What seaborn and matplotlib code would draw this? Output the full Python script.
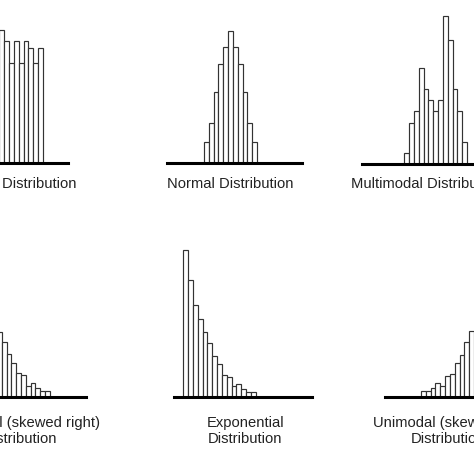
import matplotlib
matplotlib.use("Agg")
import matplotlib.pyplot as plt
import seaborn as sns

# bar heights (counts, arbitrary units)
uniform = [133, 122, 100, 122, 100, 122, 115, 100, 115]
normal = [21, 40, 71, 99, 116, 132, 116, 99, 71, 40, 21]
multimodal = [11, 41, 53, 96, 75, 64, 53, 64, 148, 124, 75, 53, 22]
skewed_right = [65, 55, 43, 34, 24, 22, 11, 14, 9, 6, 6]
exponential = [147, 117, 92, 78, 65, 54, 41, 33, 22, 20, 11, 13, 8, 5, 5]
skewed_left = [6, 6, 9, 14, 11, 21, 23, 34, 42, 55, 66]

titles = ["Uniform Distribution", "Normal Distribution", "Multimodal Distribution",
          "Unimodal (skewed right)\nDistribution", "Exponential\nDistribution",
          "Unimodal (skewed left)\nDistribution"]

sns.set_style("white")
plt.rcParams["font.family"] = ["Liberation Sans", "DejaVu Sans"]

W = H = 474
BAR_PX = 4.82
YSPAN = 155
fig = plt.figure(figsize=(W / 100, H / 100), dpi=100)


def panel(values, left, right, base, first_edge):
    ax = fig.add_axes([left / W, 1 - base / H, (right - left) / W, YSPAN / H])
    sns.barplot(x=list(range(len(values))), y=values, ax=ax, color="white",
                edgecolor="#333333", linewidth=0.85, width=1, errorbar=None,
                saturation=1)
    x0 = -0.5 - (first_edge - left) / BAR_PX
    ax.set_xlim(x0, x0 + (right - left) / BAR_PX)
    ax.set_ylim(0, YSPAN)
    sns.despine(ax=ax, left=True)
    ax.spines["bottom"].set_linewidth(2.2)
    ax.spines["bottom"].set_color("black")
    ax.set_xticks([])
    ax.set_yticks([])
    ax.set_xlabel("")
    ax.set_ylabel("")
    return ax


panel(uniform, -67.7, 68.3, 162.7, -0.5)
panel(normal, 167, 302, 163.3, 204)
panel(multimodal, 362, 498, 164.3, 404.3)
panel(skewed_right, -51, 86, 396.7, -3.1)
panel(exponential, 174, 312, 396.7, 183.3)
panel(skewed_left, 385, 521, 397.3, 421)

txt = dict(fontsize=10.6, color="#222222", multialignment="center", linespacing=1.2)
fig.text(77 / W, 1 - 188.5 / H, titles[0], ha="right", va="baseline", **txt)
fig.text(230.3 / W, 1 - 188.5 / H, titles[1], ha="center", va="baseline", **txt)
fig.text(351 / W, 1 - 188.5 / H, titles[2], ha="left", va="baseline", **txt)
fig.text(100 / W, 1 - 443 / H, titles[3], ha="right", va="baseline", **txt)
fig.text(245.4 / W, 1 - 443 / H, titles[4], ha="center", va="baseline", **txt)
fig.text(372.7 / W, 1 - 443 / H, titles[5], ha="left", va="baseline", **txt)

plt.savefig("out.png", dpi=100)
